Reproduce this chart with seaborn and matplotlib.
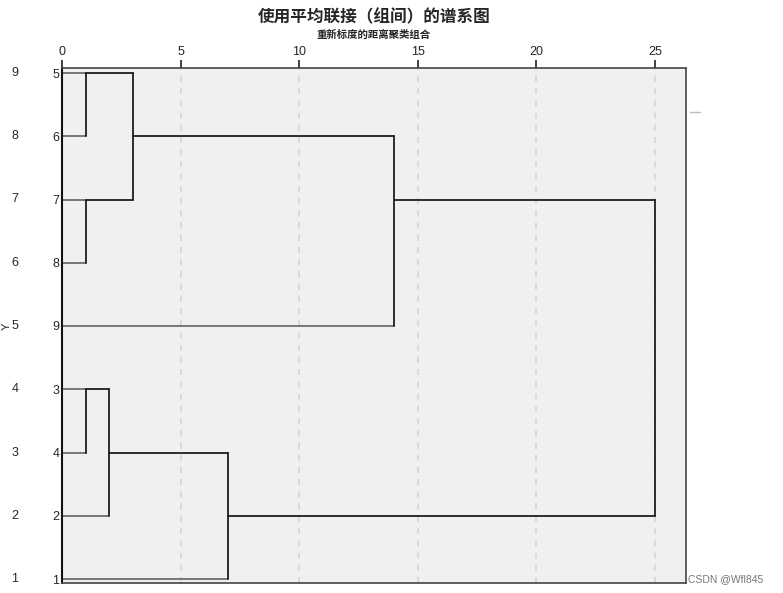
import numpy as np
import pandas as pd
import matplotlib
matplotlib.use("Agg")
import matplotlib.pyplot as plt
import seaborn as sns
from matplotlib.lines import Line2D

# ---- Data: leaf order (top -> bottom), row labels, merge schedule ----
leaf_order = ["5", "6", "7", "8", "9", "3", "4", "2", "1"]
row_labels = ["9", "8", "7", "6", "5", "4", "3", "2", "1"]
merge_a = ["5", "7", "3", "3", "5", "3", "5", "5"]
merge_b = ["6", "8", "4", "2", "7", "1", "9", "3"]
merge_dist = [1, 1, 1, 2, 3, 7, 14, 25]
x_ticks = [0, 5, 10, 15, 20, 25]

# ---- Build dendrogram segments (SPSS style: new row = floor of midpoint) ----
clusters = {lab: (i, 0, True) for i, lab in enumerate(leaf_order)}  # row, x, is_leaf
segs = []
sid = 0
for a, b, d in zip(merge_a, merge_b, merge_dist):
    ra, xa, la = clusters.pop(a)
    rb, xb, lb = clusters.pop(b)
    for r, x0, leaf in [(ra, xa, la), (rb, xb, lb)]:
        kind = "leaf" if leaf else "node"
        segs += [dict(x=x0, y=r, seg=sid, kind=kind), dict(x=d, y=r, seg=sid, kind=kind)]
        sid += 1
    segs += [dict(x=d, y=ra, seg=sid, kind="node"), dict(x=d, y=rb, seg=sid, kind="node")]
    sid += 1
    clusters[a] = (int(np.floor((ra + rb) / 2)), d, False)
df = pd.DataFrame(segs)

# ---- Style ----
sns.set_style("white")
plt.rcParams['font.family'] = ['Liberation Sans', 'Noto Sans CJK SC', 'DejaVu Sans']

fig = plt.figure(figsize=(7.83, 5.93), dpi=100)
ax = fig.add_axes([62 / 783, 10 / 593, 624 / 783, 515 / 593])
ax.set_facecolor("#f0f0f0")

for t in x_ticks[1:]:
    ax.axvline(t, color="#d2d2d2", lw=1.1, ls=(0, (4, 4)), zorder=0)

sns.lineplot(data=df, x="x", y="y", units="seg", estimator=None, sort=False,
             hue="kind", palette={"leaf": "#6e6e6e", "node": "#1e1e1e"},
             lw=1.3, legend=False, ax=ax)

ax.set_xlim(0, 624 / 23.72)
ax.set_ylim(8 + 4 / 63.25, -5 / 63.25)

ax.xaxis.tick_top()
ax.set_xticks(x_ticks)
ax.set_xticklabels([str(t) for t in x_ticks], fontsize=9)
ax.tick_params(axis="x", direction="out", length=6, width=1.3, color="#333333", pad=1)
ax.set_xlabel("")

ax.set_yticks(range(len(leaf_order)))
ax.set_yticklabels(leaf_order, fontsize=9)
ax.tick_params(axis="y", length=0, pad=2)
ax.set_ylabel("")

for i, lab in enumerate(row_labels):
    ax.text(-47 / 624, i, lab, transform=ax.get_yaxis_transform(),
            ha="center", va="center", fontsize=9)
ax.text(-55 / 624, 4, "Y", transform=ax.get_yaxis_transform(), rotation=90,
        ha="center", va="center", fontsize=8)

for s in ax.spines.values():
    s.set_color("#444444")
    s.set_linewidth(1.2)
ax.spines["left"].set_color("#111111")
ax.spines["left"].set_linewidth(1.5)

fig.text(374 / 783, 1 - 17 / 593, "使用平均联接（组间）的谱系图", ha="center", va="center",
         fontsize=12, family=["Noto Sans CJK SC"], fontweight="bold")
fig.text(374 / 783, 1 - 35 / 593, "重新标度的距离聚类组合", ha="center", va="center",
         fontsize=7.5, family=["Noto Sans CJK SC"], fontweight="bold")
fig.text(688 / 783, 1 - 579 / 593, "CSDN @Wfl845", ha="left", va="center",
         fontsize=7.5, color="#777777")
fig.add_artist(Line2D([690 / 783, 700 / 783], [1 - 112 / 593, 1 - 112 / 593],
                      color="#bbbbbb", lw=1))

fig.savefig("out.png", dpi=100)
